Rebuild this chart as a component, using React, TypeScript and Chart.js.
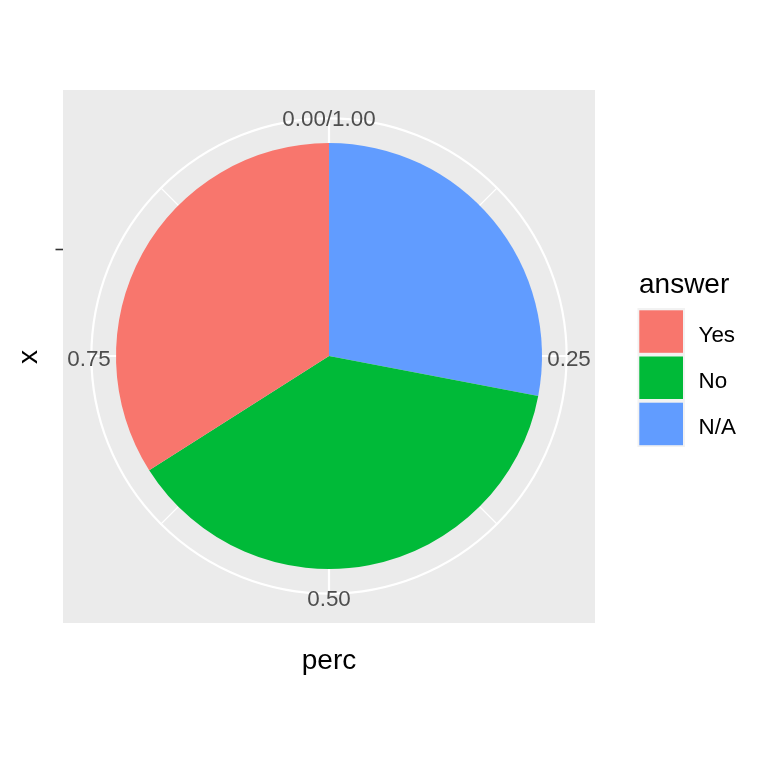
import React, { useEffect, useRef } from 'react';
import Chart from 'chart.js/auto';

// slices in clockwise order from 12 o'clock
const answers = ['N/A', 'No', 'Yes'];
const perc = [0.28, 0.38, 0.34];
const sliceColors = ['#619CFF', '#00BA38', '#F8766D'];

// legend order
const legendLabels = ['Yes', 'No', 'N/A'];
const legendColors = ['#F8766D', '#00BA38', '#619CFF'];

// theta axis breaks
const thetaBreaks = [0, 0.25, 0.5, 0.75];
const thetaLabels = ['0.00/1.00', '0.25', '0.50', '0.75'];
const thetaMinor = [0.125, 0.375, 0.625, 0.875];

const FONT = '"Liberation Sans", Arial, sans-serif';

const polarDecor = {
    id: 'polarDecor',
    beforeDraw(chart: Chart) {
        const ctx = chart.ctx;
        const arc: any = chart.getDatasetMeta(0).data[0];
        if (!arc) return;
        const cx = arc.x;
        const cy = arc.y;
        const R = arc.outerRadius;
        const gridR = R * 0.45 / 0.4 - 2;

        ctx.save();
        ctx.fillStyle = '#FFFFFF';
        ctx.fillRect(0, 0, chart.width, chart.height);
        // panel
        ctx.fillStyle = '#EBEBEB';
        ctx.fillRect(63, 90, 532, 533);

        ctx.strokeStyle = '#FFFFFF';
        // minor spokes
        ctx.lineWidth = 1.2;
        thetaMinor.forEach((t) => {
            const a = t * Math.PI * 2;
            ctx.beginPath();
            ctx.moveTo(cx, cy);
            ctx.lineTo(cx + gridR * Math.sin(a), cy - gridR * Math.cos(a));
            ctx.stroke();
        });
        // major spokes
        ctx.lineWidth = 2.2;
        thetaBreaks.forEach((t) => {
            const a = t * Math.PI * 2;
            ctx.beginPath();
            ctx.moveTo(cx, cy);
            ctx.lineTo(cx + gridR * Math.sin(a), cy - gridR * Math.cos(a));
            ctx.stroke();
        });
        // outer circle + radial grid circle
        ctx.beginPath();
        ctx.arc(cx, cy, gridR, 0, Math.PI * 2);
        ctx.stroke();
        ctx.beginPath();
        ctx.arc(cx, cy, R / 2, 0, Math.PI * 2);
        ctx.stroke();
        ctx.restore();
    },
    afterDraw(chart: Chart) {
        const ctx = chart.ctx;
        const arc: any = chart.getDatasetMeta(0).data[0];
        if (!arc) return;
        const cx = arc.x;
        const cy = arc.y;
        const R = arc.outerRadius;
        const lblR = 240;

        ctx.save();
        // theta labels
        ctx.font = `22.4px ${FONT}`;
        ctx.fillStyle = '#4D4D4D';
        ctx.textAlign = 'center';
        ctx.textBaseline = 'alphabetic';
        thetaBreaks.forEach((t, i) => {
            const a = t * Math.PI * 2;
            const x = cx + lblR * Math.sin(a);
            const y = cy - lblR * Math.cos(a) + 10;
            ctx.fillText(thetaLabels[i], x, y);
        });

        // radial axis tick (x = 1)
        const tickY = cy - R / 2;
        ctx.strokeStyle = '#333333';
        ctx.lineWidth = 1.6;
        ctx.beginPath();
        ctx.moveTo(55.5, tickY);
        ctx.lineTo(63, tickY);
        ctx.stroke();

        // axis titles
        ctx.fillStyle = '#000000';
        ctx.font = `28px ${FONT}`;
        ctx.textAlign = 'center';
        ctx.fillText('perc', 329, 669);
        ctx.save();
        ctx.translate(37, 357);
        ctx.rotate(-Math.PI / 2);
        ctx.fillText('x', 0, 0);
        ctx.restore();

        // legend
        ctx.textAlign = 'left';
        ctx.fillText('answer', 639, 292.5);
        ctx.fillStyle = '#F2F2F2';
        ctx.fillRect(637.5, 308, 47.5, 139);
        legendLabels.forEach((lab, i) => {
            const top = 310.3 + i * 46.2;
            ctx.fillStyle = legendColors[i];
            ctx.fillRect(639.3, top, 43.7, 42.5);
            ctx.fillStyle = '#000000';
            ctx.font = `22.4px ${FONT}`;
            ctx.fillText(lab, 698.5, top + 31.5);
        });
        ctx.restore();
    },
};

export default function App() {
    const chartRef = useRef<HTMLCanvasElement>(null);
    const chartInstance = useRef<Chart | null>(null);

    useEffect(() => {
        const ctx = chartRef.current?.getContext('2d');
        if (!ctx) return;

        if (chartInstance.current) {
            chartInstance.current.destroy();
        }

        chartInstance.current = new Chart(ctx, {
            type: 'pie',
            data: {
                labels: answers,
                datasets: [{
                    label: 'perc',
                    data: perc,
                    backgroundColor: sliceColors,
                    borderWidth: 0,
                    offset: 0,
                    hoverOffset: 0,
                }],
            },
            options: {
                responsive: false,
                animation: false,
                events: [],
                rotation: 0,
                layout: {
                    padding: { left: 116, right: 226, top: 143, bottom: 199 },
                },
                plugins: {
                    legend: { display: false },
                    tooltip: { enabled: false },
                    title: { display: false },
                },
            },
            plugins: [polarDecor],
        });

        return () => {
            if (chartInstance.current) {
                chartInstance.current.destroy();
                chartInstance.current = null;
            }
        };
    }, []);

    return (
        <div style={{ position: 'absolute', left: 0, top: 0, width: 768, height: 768, background: '#fff' }}>
            <canvas ref={chartRef} width={768} height={768} style={{ width: 768, height: 768 }}></canvas>
        </div>
    );
}
